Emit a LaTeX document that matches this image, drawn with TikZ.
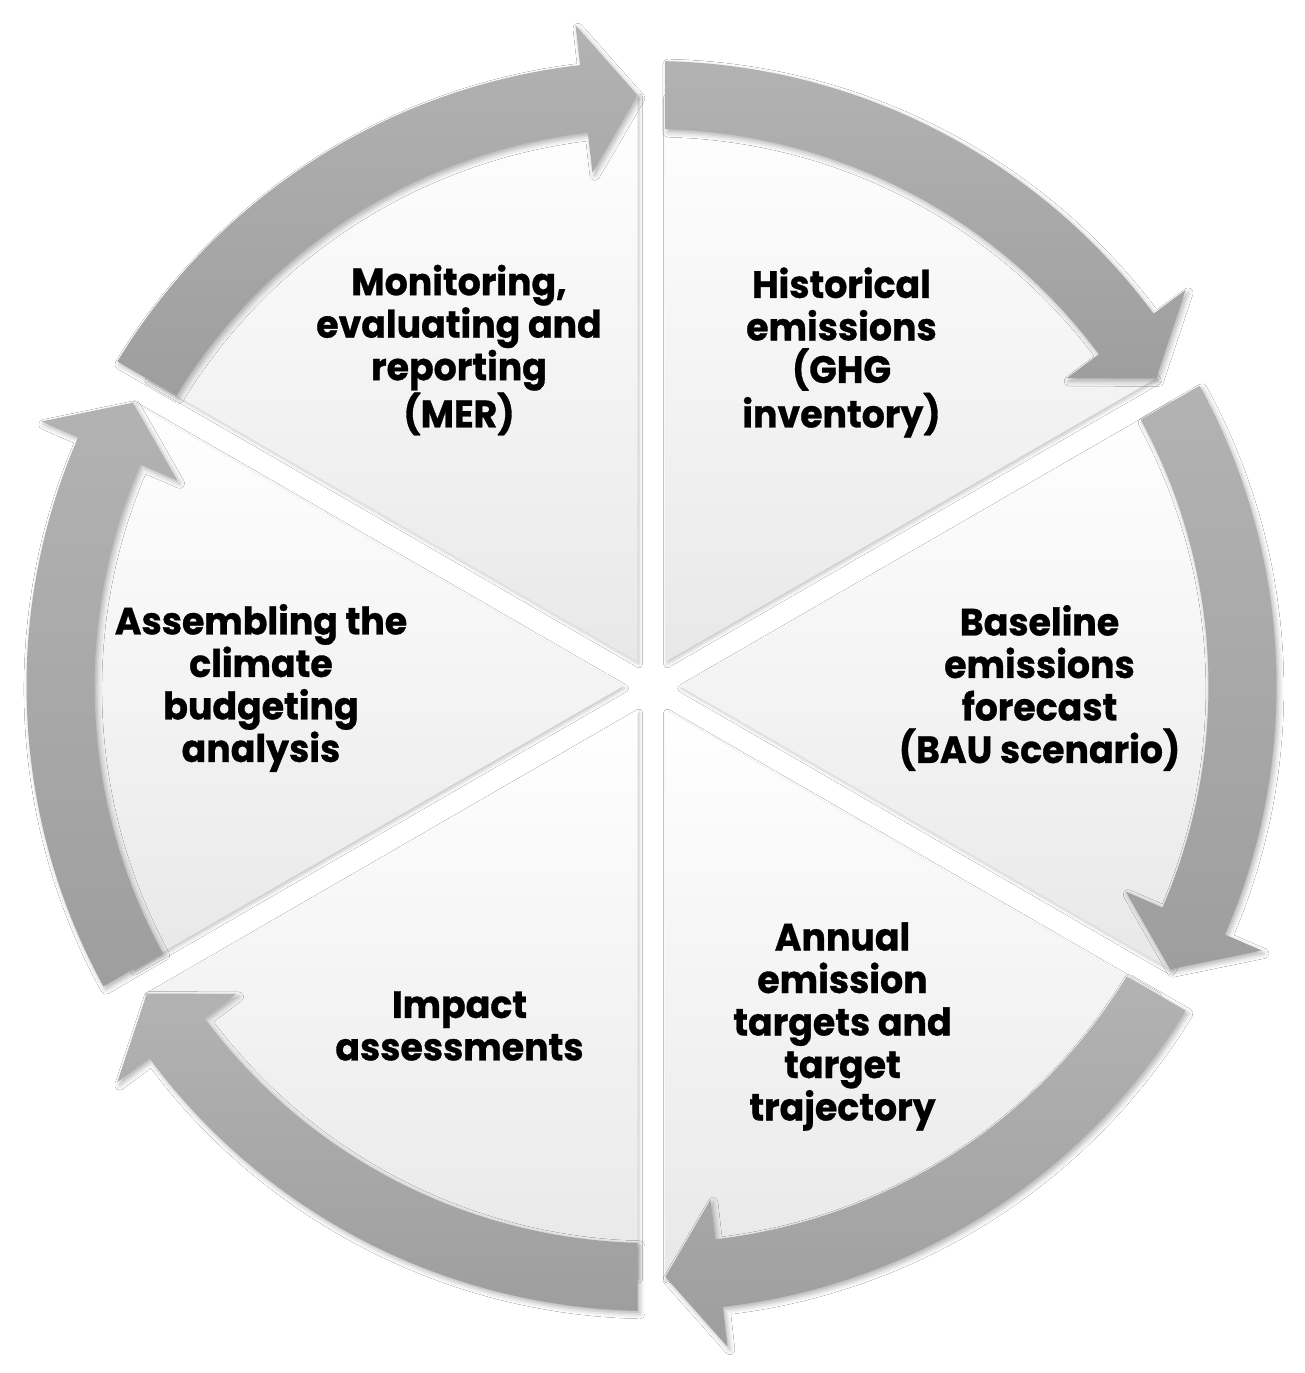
\documentclass[tikz,border=0pt]{standalone}
\usepackage{fontspec}
\setmainfont{Poppins}[FakeStretch=0.955, BoldFeatures={FakeBold=0.8}]
\usetikzlibrary{shadows.blur}
\tikzset{
  sectorfill/.style={top color=white, bottom color=black!9, draw=none,
    blur shadow={shadow xshift=0.8pt, shadow yshift=-1.2pt, shadow blur radius=1.8pt, shadow opacity=22}},
  arrowfill/.style={top color=black!30, bottom color=black!38, draw=none,
    blur shadow={shadow xshift=1.2pt, shadow yshift=-1.5pt, shadow blur radius=2.5pt, shadow opacity=30}},
  lab/.style={align=center, font=\fontsize{19}{21.25}\selectfont\bfseries, text=black, inner sep=0pt}
}
\newcommand{\mysector}[2]{%
  \pgfmathsetmacro\sa{#1-1.357}%
  \pgfmathsetmacro\sb{#2+1.357}%
  \pgfmathsetmacro\sm{(#1+#2)/2}%
  \path[sectorfill] ([shift={(C)}]\sm:28) -- ([shift={(C)}]\sb:591)
     arc[start angle=\sb, end angle=\sa, radius=591] -- cycle;
}
\newcommand{\myarrow}[2]{%
  \pgfmathsetmacro\ta{#1-1.284}%
  \pgfmathsetmacro\ti{#1-1.440}%
  \pgfmathsetmacro\tp{#2+1.357}%
  \pgfmathsetmacro\hb{#2+6.56}%
  \path[arrowfill] ([shift={(C)}]\ta:625) arc[start angle=\ta, end angle=\hb, radius=625]
     -- ([shift={(C)}]\hb:665) -- ([shift={(C)}]\tp:591) -- ([shift={(C)}]\hb:517)
     -- ([shift={(C)}]\hb:557) arc[start angle=\hb, end angle=\ti, radius=557] -- cycle;
}
\begin{document}
\begin{tikzpicture}[x=0.5pt, y=0.5pt]
\useasboundingbox (0,0) rectangle (1305,1373);
\fill[white] (0,0) rectangle (1305,1373);
\coordinate (C) at (651.5,687);
% sectors
\mysector{150}{90}
\mysector{90}{30}
\mysector{30}{-30}
\mysector{-30}{-90}
\mysector{270}{210}
\mysector{210}{150}
% arrows (clockwise)
\myarrow{150}{90}
\myarrow{90}{30}
\myarrow{30}{-30}
\myarrow{-30}{-90}
\myarrow{270}{210}
\myarrow{210}{150}
% labels
\node[lab] (mer)  at (459,1023) {Monitoring,\\evaluating and\\reporting\\(MER)};
\node[lab] (hist) at (841.5,1020.5) {Historical\\emissions\\(GHG\\inventory)};
\node[lab] (base) at (1039.5,685) {Baseline\\emissions\\forecast\\(BAU scenario)};
\node[lab] (ann)  at (842.5,346.5) {Annual\\emission\\targets and\\target\\trajectory};
\node[lab] (imp)  at (459.5,347) {Impact\\assessments};
\node[lab] (asm)  at (261,685) {Assembling the\\climate\\budgeting\\analysis};
\end{tikzpicture}
\end{document}
